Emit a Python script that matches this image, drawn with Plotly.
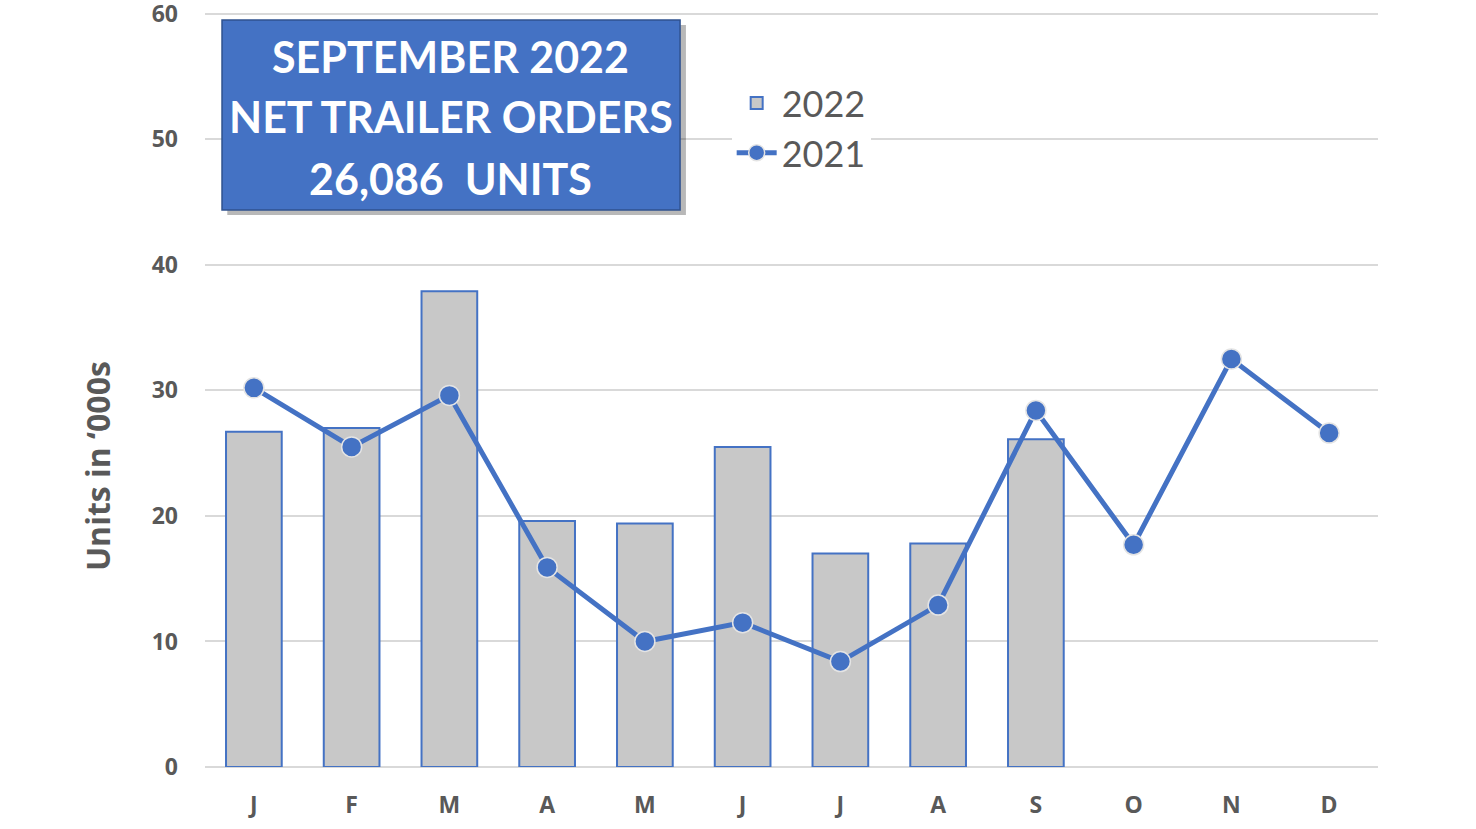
import plotly.graph_objects as go

months = ['J', 'F', 'M', 'A', 'M', 'J', 'J', 'A', 'S', 'O', 'N', 'D']
orders_2022 = [26.7, 27.0, 37.9, 19.6, 19.4, 25.5, 17.0, 17.8, 26.1]
orders_2021 = [30.2, 25.5, 29.6, 15.9, 10.0, 11.5, 8.4, 12.9, 28.4, 17.7, 32.5, 26.6]
y_ticks = [0, 10, 20, 30, 40, 50, 60]
title_lines = ['SEPTEMBER 2022', 'NET TRAILER ORDERS', '26,086  UNITS']

blue = '#4472C4'
grey_txt = '#595959'
idx = list(range(len(months)))

fig = go.Figure()
fig.add_trace(go.Bar(x=idx[:len(orders_2022)], y=orders_2022, name='2022', legendgroup='a',
                     marker=dict(color='#C8C8C8', line=dict(color=blue, width=2)),
                     width=0.57))
fig.add_trace(go.Scatter(x=idx, y=orders_2021, name='2021', mode='lines+markers', legendgroup='b',
                         line=dict(color=blue, width=5),
                         marker=dict(size=20, color=blue, line=dict(color='#E4E4E4', width=1.5))))

# paper coords below are relative to a plot area of 1173 x 757 px
H = 757.0
def py(v):
    return (769 - v) / H

# title box with a soft shadow
fig.add_shape(type='rect', xref='paper', yref='paper', x0=0.019, x1=0.410, y0=py(217), y1=py(27),
              fillcolor='rgba(0,0,0,0.28)', line=dict(width=0), layer='above')
fig.add_shape(type='rect', xref='paper', yref='paper', x0=0.0145, x1=0.405, y0=py(212), y1=py(22),
              fillcolor=blue, line=dict(color='#2F528F', width=1.5), layer='above')
for i, txt in enumerate(title_lines):
    fig.add_annotation(text='<b>' + txt + '</b>', xref='paper', yref='paper',
                       x=0.2097, y=py(58 + 61 * i), showarrow=False,
                       xanchor='center', yanchor='middle',
                       font=dict(family='Lato', size=43, color='white'))

# y axis title sits below centre in the original
fig.add_annotation(text='<b>Units in ‘000s</b>', xref='paper', yref='paper',
                   x=-0.092, y=py(468), showarrow=False, textangle=-90,
                   xanchor='center', yanchor='middle',
                   font=dict(family='Open Sans', size=32, color=grey_txt))

fig.update_layout(
    width=1476, height=829,
    plot_bgcolor='white', paper_bgcolor='white',
    margin=dict(l=205, r=98, t=10, b=62),
    font=dict(family='Open Sans', color=grey_txt),
    showlegend=True,
    legend=dict(x=0.449, y=py(75), xanchor='left', yanchor='top', bgcolor='white',
                font=dict(size=36, color=grey_txt, family='Lato'), traceorder='normal',
                tracegroupgap=26, itemwidth=40),
    bargap=0.43,
)
fig.update_xaxes(tickvals=idx, ticktext=['<b>' + m + '</b>' for m in months],
                 range=[-0.5, 11.5], showgrid=False, showline=False, automargin=False,
                 tickfont=dict(size=23, color=grey_txt), ticks='', ticklabelstandoff=22)
fig.update_yaxes(range=[0, 60.3], tickvals=y_ticks, ticktext=['<b>%d</b>' % v for v in y_ticks],
                 showgrid=True, gridcolor='#D9D9D9', gridwidth=1.5,
                 zeroline=True, zerolinecolor='#D9D9D9', zerolinewidth=2, automargin=False,
                 tickfont=dict(size=23, color=grey_txt), ticklabelstandoff=26,
                 ticklabeloverflow='allow')

fig.write_html("out.html", config={'displayModeBar': False},
               post_script="document.body.style.margin='0';")
